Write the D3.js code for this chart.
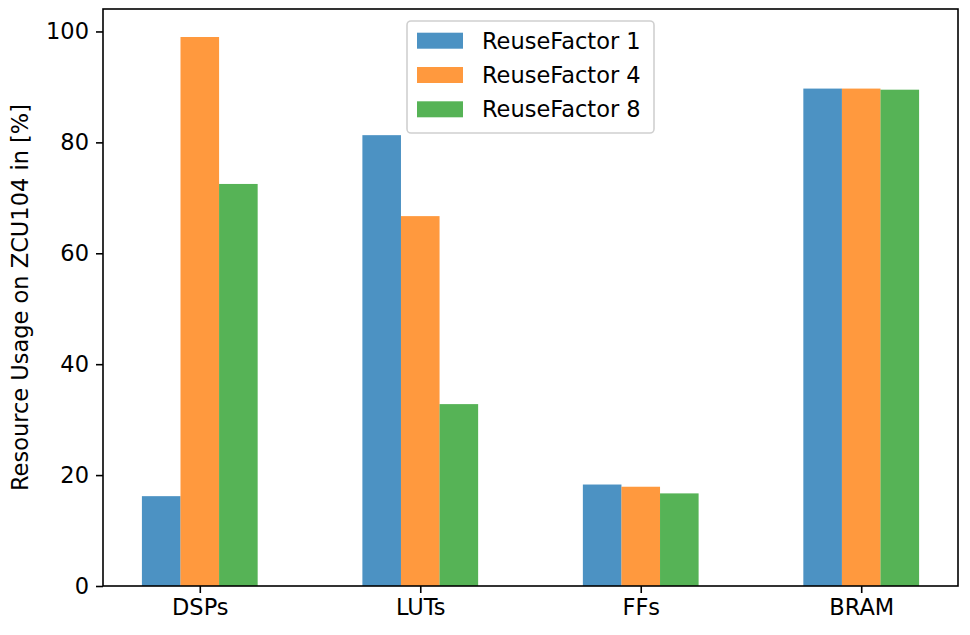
<!DOCTYPE html>
<html><head><meta charset="utf-8">
<script src="https://cdn.jsdelivr.net/npm/d3@7"></script>
<style>body{margin:0;background:#fff}svg{display:block}text{font-family:"DejaVu Sans",sans-serif;fill:#000}</style>
</head><body><svg id="c" width="970" height="635"></svg>
<script>
const categories = ["DSPs", "LUTs", "FFs", "BRAM"];
const seriesNames = ["ReuseFactor 1", "ReuseFactor 4", "ReuseFactor 8"];
const rf1 = [16.2, 81.3, 18.3, 89.7];
const rf4 = [99.0, 66.7, 17.9, 89.7];
const rf8 = [72.5, 32.8, 16.7, 89.5];
const yTicks = [0, 20, 40, 60, 80, 100];
const colors = ["#1f77b4", "#ff7f0e", "#2ca02c"];

const series = [rf1, rf4, rf8];
const svg = d3.select("#c");
const L = 103, R = 958, T = 9, B = 586;
const barW = 0.175;
const x = d3.scaleLinear().domain([-0.439, 3.439]).range([L, R]);
const y = d3.scaleLinear().domain([0, 104.05]).range([B, T]);

series.forEach((vals, s) => {
  svg.append("g").selectAll("rect").data(vals).join("rect")
    .attr("x", (d, i) => x(i + (s - 1) * barW - barW / 2))
    .attr("width", x(barW) - x(0))
    .attr("y", d => y(d))
    .attr("height", d => y(0) - y(d))
    .attr("fill", colors[s]).attr("fill-opacity", 0.8);
});

const fs = 22.5;
const yAxis = svg.append("g").attr("transform", `translate(${L},0)`)
  .call(d3.axisLeft(y).tickValues(yTicks).tickSize(7).tickPadding(7));
const xAxis = svg.append("g").attr("transform", `translate(0,${B})`)
  .call(d3.axisBottom(x).tickValues(d3.range(categories.length)).tickFormat(i => categories[i]).tickSize(7).tickPadding(6));
[yAxis, xAxis].forEach(g => {
  g.selectAll("text").attr("font-size", fs).attr("font-family", '"DejaVu Sans",sans-serif');
  g.selectAll("line").attr("stroke", "#000").attr("stroke-width", 1.6);
  g.select(".domain").remove();
});

svg.append("rect").attr("x", L).attr("y", T).attr("width", R - L).attr("height", B - T)
  .attr("fill", "none").attr("stroke", "#000").attr("stroke-width", 1.6);

svg.append("text").attr("transform", `translate(28,${(T + B) / 2}) rotate(-90)`)
  .attr("text-anchor", "middle").attr("font-size", fs).text("Resource Usage on ZCU104 in [%]");

// legend
const lg = svg.append("g");
lg.append("rect").attr("x", 407).attr("y", 21).attr("width", 247).attr("height", 112)
  .attr("rx", 4).attr("fill", "#fff").attr("fill-opacity", 0.8).attr("stroke", "#d0d0d0").attr("stroke-width", 1.6);
seriesNames.forEach((n, i) => {
  const cy = 40.7 + i * 34.3;
  lg.append("rect").attr("x", 417).attr("y", cy - 8).attr("width", 46).attr("height", 16)
    .attr("fill", colors[i]).attr("fill-opacity", 0.8);
  lg.append("text").attr("x", 482).attr("y", cy).attr("dy", "0.35em").attr("font-size", fs).text(n);
});
</script></body></html>
